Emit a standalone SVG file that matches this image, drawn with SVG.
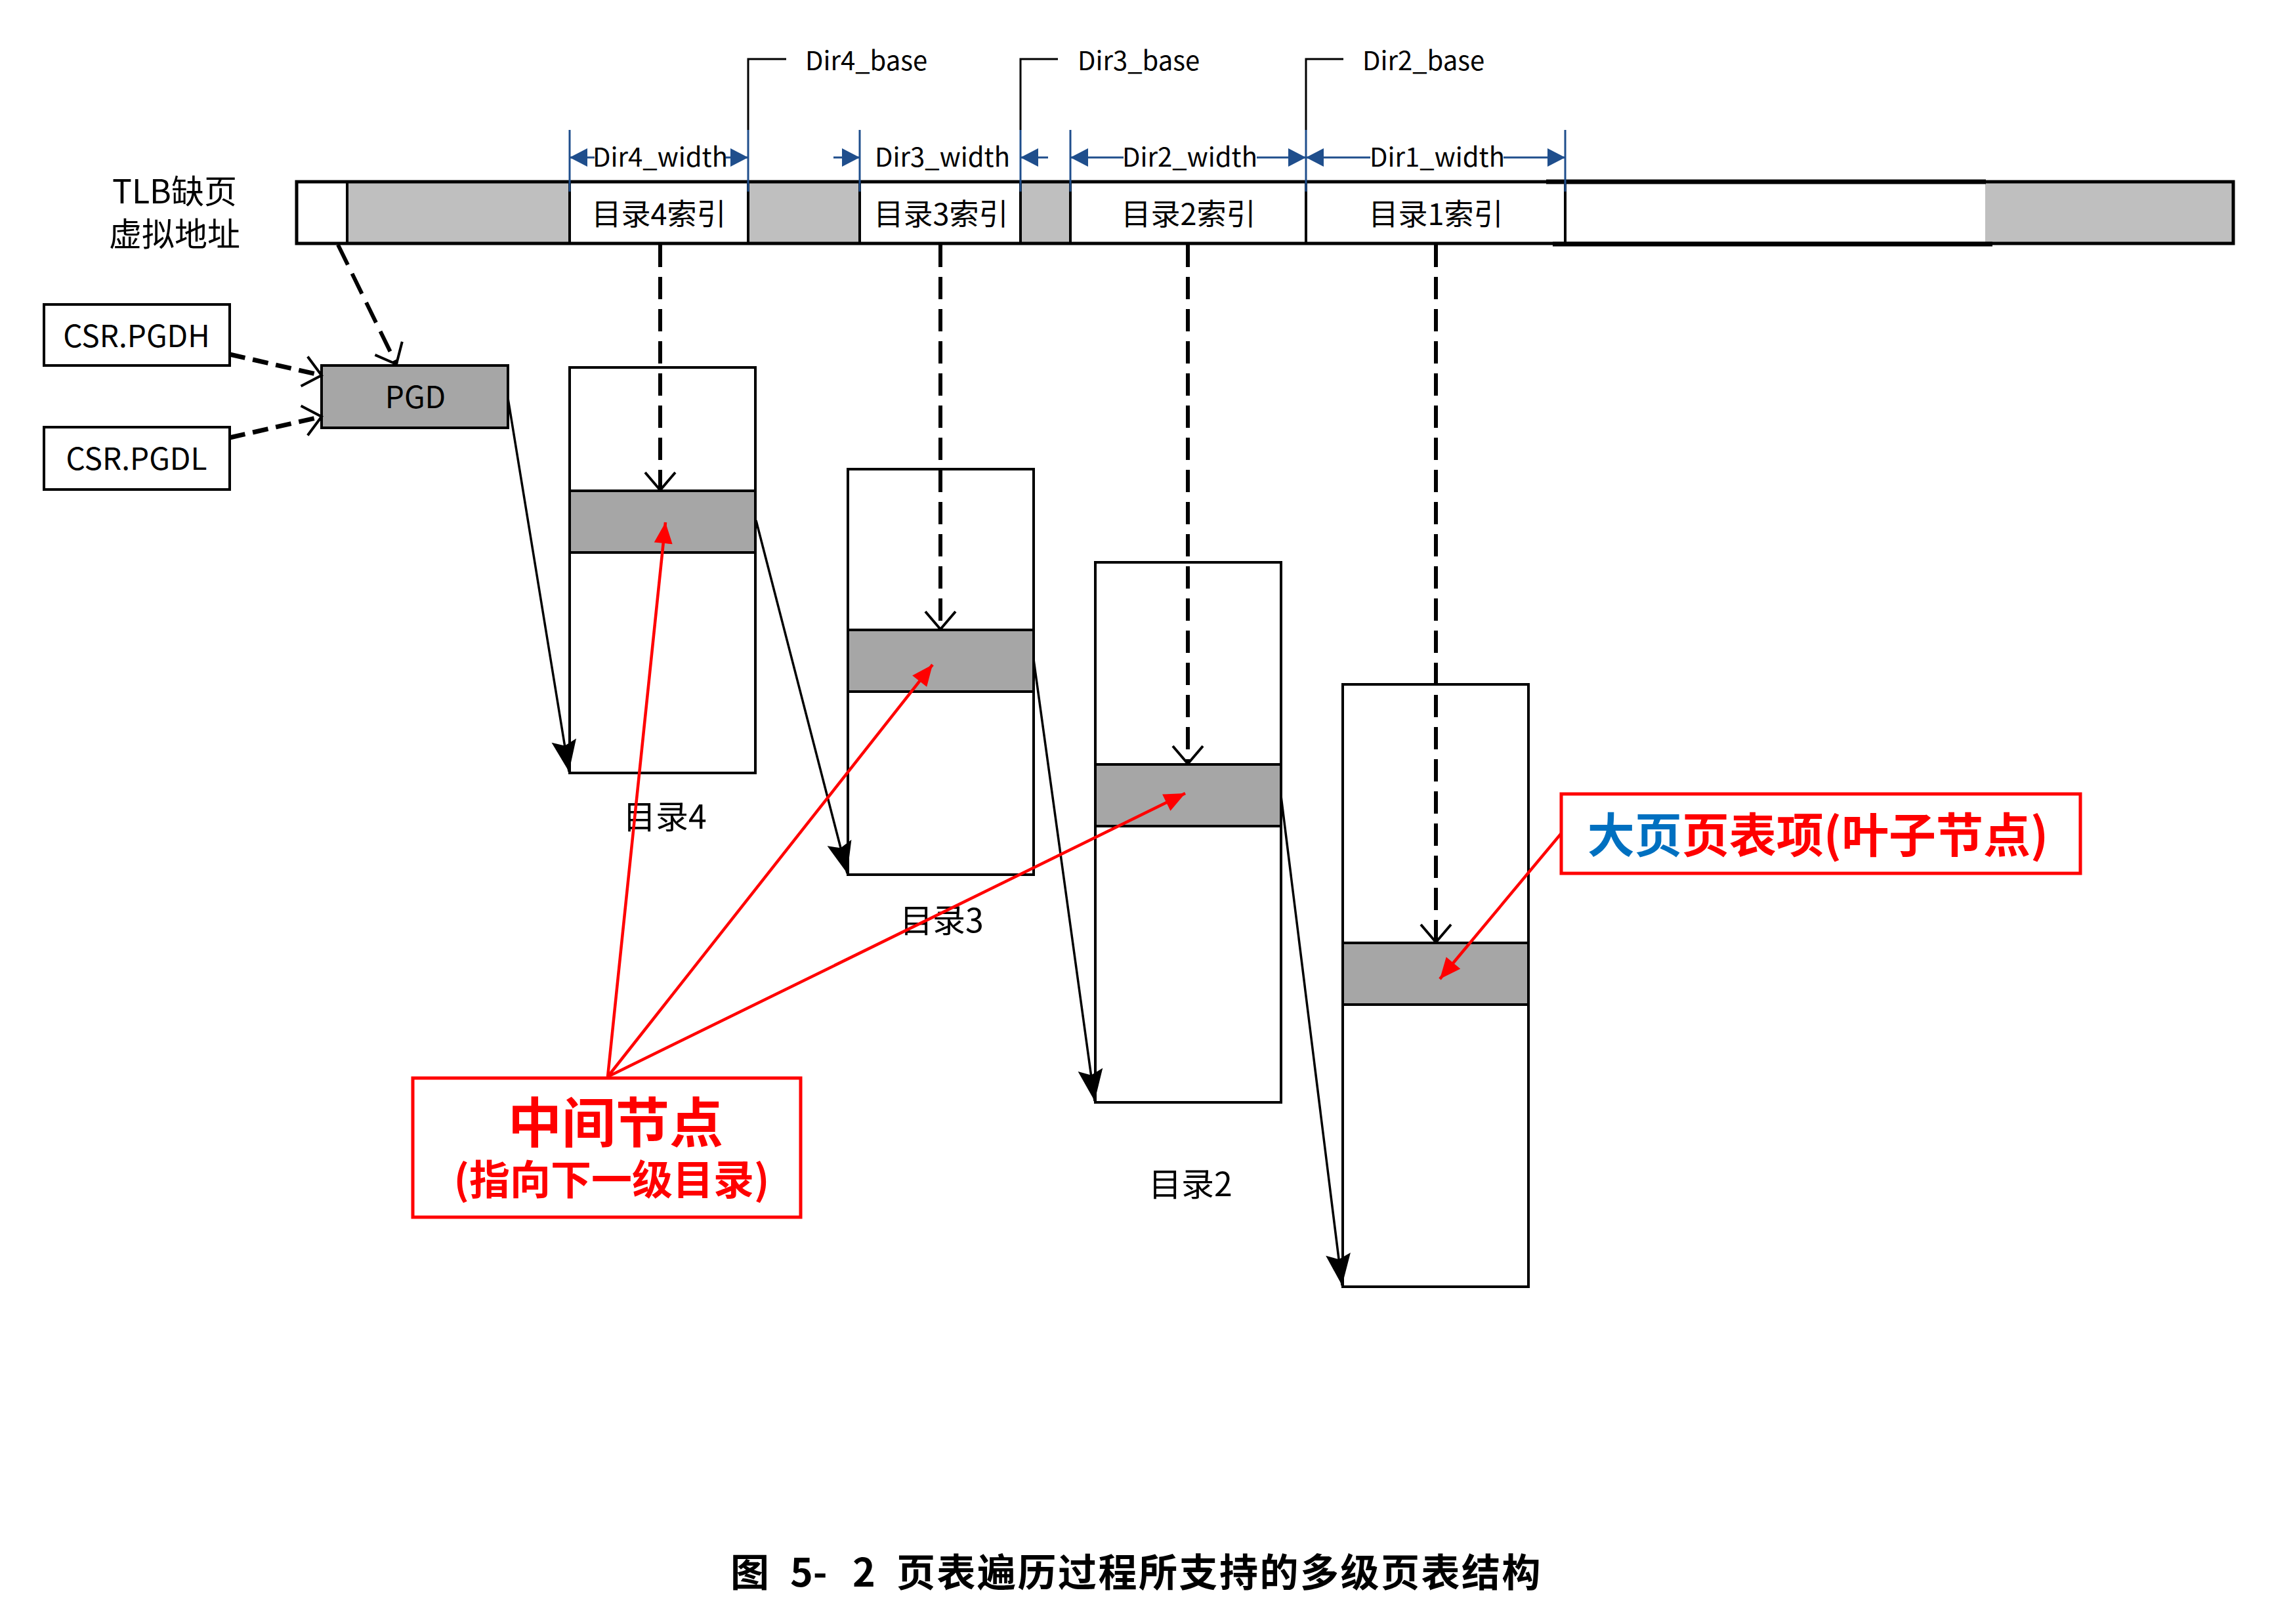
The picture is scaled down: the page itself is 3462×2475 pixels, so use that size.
<svg xmlns="http://www.w3.org/2000/svg" width="3462" height="2475" viewBox="0 0 3462 2475">
<style>
text { font-family: "Noto Sans CJK SC", "Noto Sans", sans-serif; fill: #000; }
.box { fill: #fff; stroke: #000; stroke-width: 4; }
.entry { fill: #A6A6A6; stroke: #000; stroke-width: 4; }
.barg { fill: #BFBFBF; stroke: none; }
.div { stroke: #000; stroke-width: 4; }
.dash { fill: none; stroke: #000; stroke-width: 6; stroke-dasharray: 34 15; }
.dash2 { fill: none; stroke: #000; stroke-width: 7; stroke-dasharray: 24 12; }
.ptr { fill: none; stroke: #000; stroke-width: 3.5; }
.redl { fill: none; stroke: #FF0000; stroke-width: 4.5; }
.dim { fill: none; stroke: #1F4E8C; stroke-width: 3; }
.base { fill: none; stroke: #000; stroke-width: 3; }
.lbl { font-size: 40px; }
.cell { font-size: 45px; text-anchor: middle; }
.big { font-size: 50px; text-anchor: middle; }
.reg { font-size: 46px; text-anchor: middle; }
.dir { font-size: 50px; text-anchor: middle; }
.redbox { fill: #fff; stroke: #FF0000; stroke-width: 5; }
.rt { fill: #FF0000; font-weight: bold; text-anchor: middle; }
</style>
<defs>
<marker id="openV" markerUnits="userSpaceOnUse" markerWidth="60" markerHeight="60" refX="0" refY="0" orient="auto" overflow="visible">
<path d="M-27,-23 L0,0 L-27,23" fill="none" stroke="#000" stroke-width="4"/>
</marker>
<marker id="solid" markerUnits="userSpaceOnUse" markerWidth="60" markerHeight="60" refX="0" refY="0" orient="auto" overflow="visible">
<path d="M0,0 L-48,-19 L-40,0 L-48,19 Z" fill="#000"/>
</marker>
<marker id="redA" markerUnits="userSpaceOnUse" markerWidth="60" markerHeight="60" refX="0" refY="0" orient="auto" overflow="visible">
<path d="M0,0 L-32,-14 L-32,14 Z" fill="#FF0000"/>
</marker>
<marker id="blueA" markerUnits="userSpaceOnUse" markerWidth="60" markerHeight="60" refX="0" refY="0" orient="auto" overflow="visible">
<path d="M0,0 L-27,-14 L-27,14 Z" fill="#1F4E8C"/>
</marker>
</defs>
<rect x="0" y="0" width="3462" height="2475" fill="#fff"/>

<g id="va-label">
<text class="big" x="266" y="310">TLB缺页</text>
<text class="big" x="266" y="375">虚拟地址</text>
</g>

<g id="va-bar">
<rect x="452" y="277" width="2951" height="94" fill="#fff"/>
<rect class="barg" x="529" y="277" width="339" height="94"/>
<rect class="barg" x="1140" y="277" width="170" height="94"/>
<rect class="barg" x="1555" y="277" width="76" height="94"/>
<rect class="barg" x="3025" y="277" width="378" height="94"/>
<rect x="452" y="277" width="2951" height="94" fill="none" stroke="#000" stroke-width="5"/>
<line x1="2356" y1="277" x2="3026" y2="277" stroke="#000" stroke-width="7"/>
<line x1="2366" y1="372" x2="3036" y2="372" stroke="#000" stroke-width="7"/>
<line class="div" x1="529" y1="277" x2="529" y2="371"/>
<line class="div" x1="868" y1="277" x2="868" y2="371"/>
<line class="div" x1="1140" y1="277" x2="1140" y2="371"/>
<line class="div" x1="1310" y1="277" x2="1310" y2="371"/>
<line class="div" x1="1555" y1="277" x2="1555" y2="371"/>
<line class="div" x1="1631" y1="277" x2="1631" y2="371"/>
<line class="div" x1="1990" y1="277" x2="1990" y2="371"/>
<line class="div" x1="2385" y1="277" x2="2385" y2="371"/>
<text class="cell" x="1004" y="343">目录4索引</text>
<text class="cell" x="1434" y="343">目录3索引</text>
<text class="cell" x="1811" y="343">目录2索引</text>
<text class="cell" x="2188" y="343">目录1索引</text>
</g>

<g id="dimensions">
<line class="dim" x1="868" y1="198" x2="868" y2="292"/>
<line class="dim" x1="1140" y1="198" x2="1140" y2="292"/>
<line class="dim" x1="1310" y1="198" x2="1310" y2="292"/>
<line class="dim" x1="1555" y1="198" x2="1555" y2="292"/>
<line class="dim" x1="1631" y1="198" x2="1631" y2="292"/>
<line class="dim" x1="1990" y1="198" x2="1990" y2="292"/>
<line class="dim" x1="2385" y1="198" x2="2385" y2="292"/>
<line class="dim" x1="906" y1="240" x2="868" y2="240" marker-end="url(#blueA)"/>
<line class="dim" x1="1106" y1="240" x2="1140" y2="240" marker-end="url(#blueA)"/>
<text class="lbl" x="1006" y="254" text-anchor="middle">Dir4_width</text>
<line class="dim" x1="1270" y1="240" x2="1310" y2="240" marker-end="url(#blueA)"/>
<line class="dim" x1="1597" y1="240" x2="1555" y2="240" marker-end="url(#blueA)"/>
<text class="lbl" x="1436" y="254" text-anchor="middle">Dir3_width</text>
<line class="dim" x1="1712" y1="240" x2="1631" y2="240" marker-end="url(#blueA)"/>
<line class="dim" x1="1915" y1="240" x2="1990" y2="240" marker-end="url(#blueA)"/>
<text class="lbl" x="1813" y="254" text-anchor="middle">Dir2_width</text>
<line class="dim" x1="2088" y1="240" x2="1990" y2="240" marker-end="url(#blueA)"/>
<line class="dim" x1="2291" y1="240" x2="2385" y2="240" marker-end="url(#blueA)"/>
<text class="lbl" x="2190" y="254" text-anchor="middle">Dir1_width</text>
<path class="base" d="M1140,198 L1140,90 L1198,90"/>
<text class="lbl" x="1227" y="107">Dir4_base</text>
<path class="base" d="M1555,198 L1555,90 L1612,90"/>
<text class="lbl" x="1642" y="107">Dir3_base</text>
<path class="base" d="M1990,198 L1990,90 L2047,90"/>
<text class="lbl" x="2076" y="107">Dir2_base</text>
</g>

<g id="csr-pgdh">
<rect class="box" x="67" y="464" width="283" height="93"/>
<text class="reg" x="208" y="529">CSR.PGDH</text>
</g>
<g id="csr-pgdl">
<rect class="box" x="67" y="651" width="283" height="95"/>
<text class="reg" x="208" y="716">CSR.PGDL</text>
</g>
<g id="pgd">
<rect class="entry" x="490" y="557" width="284" height="95"/>
<text class="reg" x="633" y="622">PGD</text>
</g>

<g id="dir4">
<rect class="box" x="868" y="560" width="283" height="618"/>
<rect class="entry" x="868" y="748" width="283" height="94"/>
<text class="dir" x="1013" y="1263">目录4</text>
</g>
<g id="dir3">
<rect class="box" x="1292" y="715" width="283" height="618"/>
<rect class="entry" x="1292" y="960" width="283" height="94"/>
<text class="dir" x="1435" y="1421">目录3</text>
</g>
<g id="dir2">
<rect class="box" x="1669" y="857" width="283" height="823"/>
<rect class="entry" x="1669" y="1165" width="283" height="94"/>
<text class="dir" x="1814" y="1823">目录2</text>
</g>
<g id="dir1">
<rect class="box" x="2046" y="1043" width="283" height="918"/>
<rect class="entry" x="2046" y="1437" width="283" height="94"/>
</g>

<g id="connectors">
<line class="dash" x1="515" y1="373" x2="604" y2="555" marker-end="url(#openV)"/>
<line class="dash2" x1="350" y1="540" x2="490" y2="572" marker-end="url(#openV)"/>
<line class="dash2" x1="350" y1="667" x2="490" y2="635" marker-end="url(#openV)"/>
<line class="dash" x1="1006" y1="373" x2="1006" y2="747" marker-end="url(#openV)"/>
<line class="dash" x1="1433" y1="373" x2="1433" y2="959" marker-end="url(#openV)"/>
<line class="dash" x1="1810" y1="373" x2="1810" y2="1164" marker-end="url(#openV)"/>
<line class="dash" x1="2188" y1="373" x2="2188" y2="1436" marker-end="url(#openV)"/>
<line class="ptr" x1="774" y1="607" x2="867" y2="1176" marker-end="url(#solid)"/>
<line class="ptr" x1="1152" y1="793" x2="1291" y2="1331" marker-end="url(#solid)"/>
<line class="ptr" x1="1575" y1="1005" x2="1668" y2="1678" marker-end="url(#solid)"/>
<line class="ptr" x1="1952" y1="1213" x2="2045" y2="1959" marker-end="url(#solid)"/>
<line class="redl" x1="926" y1="1641" x2="1014" y2="796" marker-end="url(#redA)"/>
<line class="redl" x1="926" y1="1641" x2="1421" y2="1013" marker-end="url(#redA)"/>
<line class="redl" x1="926" y1="1641" x2="1806" y2="1209" marker-end="url(#redA)"/>
<line class="redl" x1="2379" y1="1270" x2="2194" y2="1492" marker-end="url(#redA)"/>
</g>

<g id="note-intermediate">
<rect class="redbox" x="629" y="1643" width="591" height="212"/>
<text class="rt" x="938" y="1741" font-size="82">中间节点</text>
<text class="rt" x="932" y="1821" font-size="62">(指向下一级目录)</text>
</g>
<g id="note-leaf">
<rect class="redbox" x="2379" y="1210" width="791" height="121"/>
<text class="rt" x="2770" y="1299" font-size="72"><tspan fill="#0070C0">大页</tspan>页表项(叶子节点)</text>
</g>

<g id="caption">
<text font-size="59" font-weight="bold" y="2418"><tspan x="1113">图</tspan><tspan x="1204">5-</tspan><tspan x="1299">2</tspan><tspan x="1366" letter-spacing="2.5">页表遍历过程所支持的多级页表结构</tspan></text>
</g>
</svg>
